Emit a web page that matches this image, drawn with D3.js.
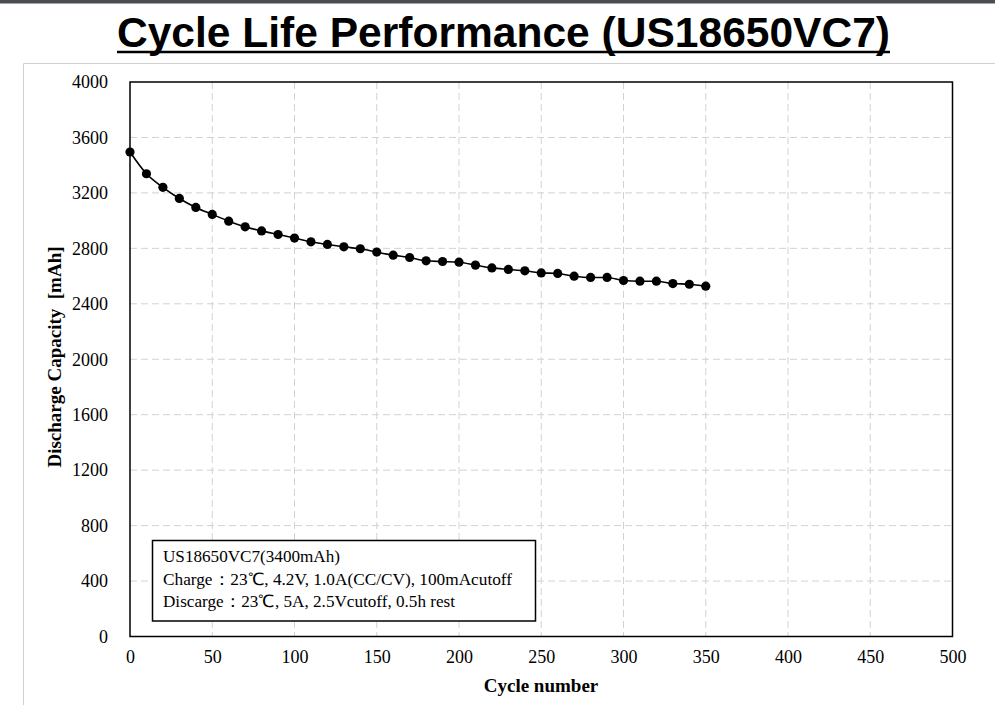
<!DOCTYPE html>
<html><head><meta charset="utf-8">
<script src="https://cdn.jsdelivr.net/npm/d3@7"></script>
<style>html,body{margin:0;padding:0;background:#fff;overflow:hidden}</style>
</head><body>
<svg id="chart" width="995" height="705"></svg>
<script>
const cycles = [0,10,20,30,40,50,60,70,80,90,100,110,120,130,140,150,160,170,180,190,200,210,220,230,240,250,260,270,280,290,300,310,320,330,340,350];
const capacity = [3495,3338,3240,3160,3095,3045,2996,2955,2926,2900,2874,2847,2828,2811,2797,2773,2751,2734,2710,2705,2700,2679,2659,2648,2638,2623,2619,2599,2590,2590,2568,2563,2563,2546,2541,2527];
const xTicks = [0,50,100,150,200,250,300,350,400,450,500];
const yTicks = [0,400,800,1200,1600,2000,2400,2800,3200,3600,4000];
const titleText = "Cycle Life Performance (US18650VC7)";
const xLabel = "Cycle number";
const yLabel = "Discharge Capacity  [mAh]";
const noteLines = ["US18650VC7(3400mAh)", "Charge：23℃, 4.2V, 1.0A(CC/CV), 100mAcutoff", "Discarge：23℃, 5A, 2.5Vcutoff, 0.5h rest"];
const noteWidths = [177, 349, 292];

const svg = d3.select("#chart");
const serif = "'Liberation Serif','Times New Roman',serif";

// top dark band
svg.append("rect").attr("x",0).attr("y",0).attr("width",995).attr("height",3.5).attr("fill","#4a4d52");

// title
svg.append("text").attr("x",117).attr("y",47)
  .attr("textLength",773).attr("lengthAdjust","spacingAndGlyphs")
  .style("font-family","'Liberation Sans Narrow','Liberation Sans',Arial,sans-serif").style("font-weight","bold").style("font-size","42px")
  .attr("fill","#000").text(titleText);
svg.append("line").attr("x1",117).attr("x2",890).attr("y1",52).attr("y2",52).attr("stroke","#000").attr("stroke-width",2.5);

// light outer frame
svg.append("line").attr("x1",23.5).attr("x2",995).attr("y1",63.5).attr("y2",63.5).attr("stroke","#d0d0d0");
svg.append("line").attr("x1",23.5).attr("x2",23.5).attr("y1",63.5).attr("y2",705).attr("stroke","#d0d0d0");

const L=130, R=952.5, T=82, B=636.5;
const x = d3.scaleLinear().domain([0,500]).range([L,R]);
const y = d3.scaleLinear().domain([0,4000]).range([B,T]);

// grid
const g = svg.append("g");
g.selectAll(".vg").data(xTicks.slice(1,-1)).enter().append("line")
  .attr("x1",d=>x(d)).attr("x2",d=>x(d)).attr("y1",T).attr("y2",B)
  .attr("stroke","#d2d2d2").attr("stroke-width",1).attr("stroke-dasharray","7,4");
g.selectAll(".hg").data(yTicks.slice(1,-1)).enter().append("line")
  .attr("x1",L).attr("x2",R).attr("y1",d=>y(d)).attr("y2",d=>y(d))
  .attr("stroke","#d2d2d2").attr("stroke-width",1).attr("stroke-dasharray","7,4");

// axes via d3
const xAxis = svg.append("g").attr("transform",`translate(0,${B})`)
  .call(d3.axisBottom(x).tickValues(xTicks).tickSize(0).tickPadding(14).tickFormat(d3.format("d")));
const yAxis = svg.append("g").attr("transform",`translate(${L},0)`)
  .call(d3.axisLeft(y).tickValues(yTicks).tickSize(0).tickPadding(22).tickFormat(d3.format("d")));
[xAxis,yAxis].forEach(a=>{
  a.select(".domain").remove();
  a.selectAll("text").style("font-family",serif).style("font-size","18px").attr("fill","#000");
});

// plot frame
svg.append("rect").attr("x",L).attr("y",T).attr("width",R-L).attr("height",B-T)
  .attr("fill","none").attr("stroke","#000").attr("stroke-width",1.5);

// axis titles
svg.append("text").attr("x",541).attr("y",692).attr("text-anchor","middle")
  .style("font-family",serif).style("font-weight","bold").style("font-size","19px").text(xLabel);
svg.append("text").attr("transform","translate(61,357) rotate(-90)").attr("text-anchor","middle")
  .style("font-family",serif).style("font-weight","bold").style("font-size","19px")
  .attr("xml:space","preserve").style("white-space","pre").text(yLabel);

// data
const pts = cycles.map((c,i)=>({c, v:capacity[i]}));
svg.append("path").datum(pts)
  .attr("d", d3.line().x(d=>x(d.c)).y(d=>y(d.v)).curve(d3.curveMonotoneX))
  .attr("fill","none").attr("stroke","#000").attr("stroke-width",1.6);
svg.selectAll(".pt").data(pts).enter().append("circle")
  .attr("cx",d=>x(d.c)).attr("cy",d=>y(d.v)).attr("r",4.6).attr("fill","#000");

// note box
svg.append("rect").attr("x",152.5).attr("y",540.5).attr("width",383).attr("height",80.5)
  .attr("fill","#fff").attr("stroke","#000").attr("stroke-width",1.5);
svg.selectAll(".note").data(noteLines).enter().append("text")
  .attr("x",163).attr("y",(d,i)=>562+i*22.5)
  .attr("textLength",(d,i)=>noteWidths[i]).attr("lengthAdjust","spacingAndGlyphs")
  .style("font-family",serif).style("font-size","16.5px").attr("fill","#000").text(d=>d);
</script>
</body></html>
